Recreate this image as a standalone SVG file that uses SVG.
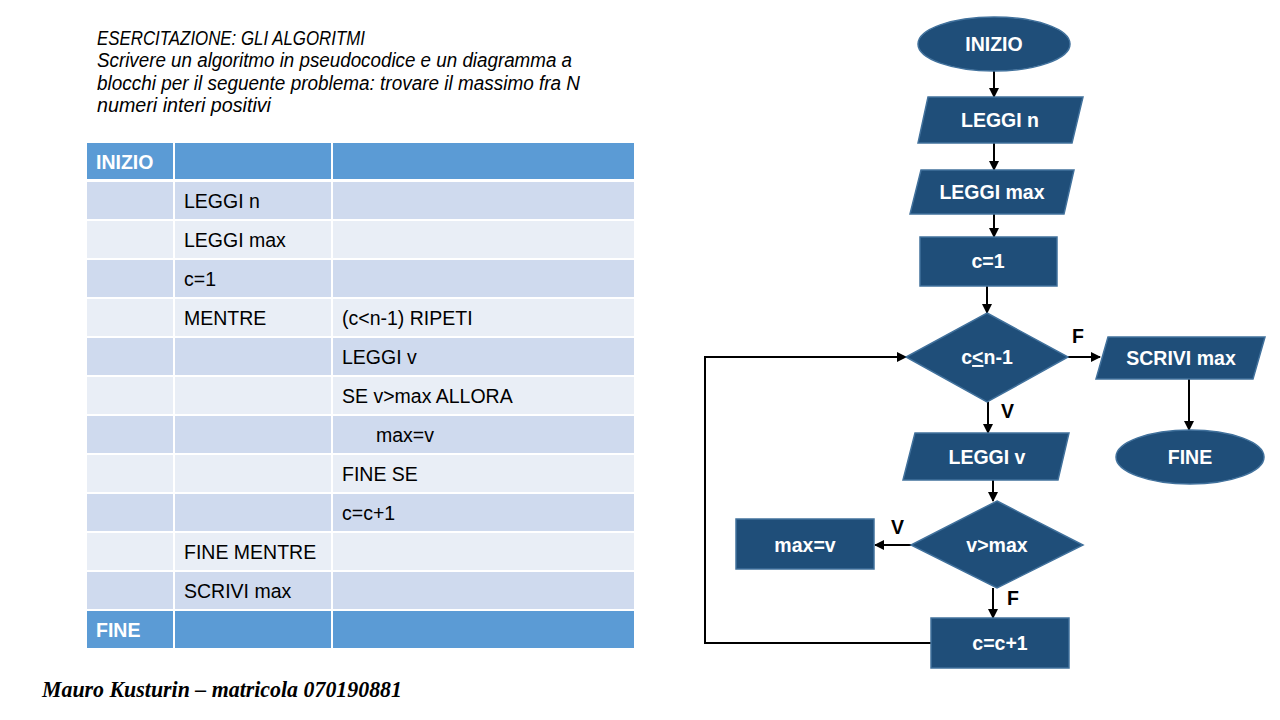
<svg xmlns="http://www.w3.org/2000/svg" width="1280" height="720" viewBox="0 0 1280 720">
<style>
.title{font-family:"Liberation Sans",Arial,sans-serif;font-style:italic;font-size:19.5px;fill:#000}
.cell{font-family:"Liberation Sans",Arial,sans-serif;font-size:19.5px;fill:#000}
.hcell{font-family:"Liberation Sans",Arial,sans-serif;font-size:19.5px;font-weight:bold;fill:#fff}
.hd{fill:#5B9BD5}
.dk{fill:#CFDAEE}
.lt{fill:#E9EEF6}
.node{fill:#1F4E79;stroke:#41719C;stroke-width:1.5}
.nt{font-family:"Liberation Sans",Arial,sans-serif;font-size:19.5px;font-weight:bold;fill:#fff;text-anchor:middle}
.lab{font-family:"Liberation Sans",Arial,sans-serif;font-size:19.5px;font-weight:bold;fill:#000}
.con{fill:none;stroke:#000;stroke-width:2}
.sig{font-family:"Liberation Serif",serif;font-style:italic;font-weight:bold;font-size:23px;fill:#000}
</style>
<defs>
<marker id="arr" markerUnits="userSpaceOnUse" markerWidth="10" markerHeight="10" refX="9" refY="5" orient="auto">
<path d="M0,0 L10,5 L0,10 Z" fill="#000"/>
</marker>
</defs>
<rect width="1280" height="720" fill="#fff"/>
<g id="title">
<text class="title" x="97" y="45" textLength="268" lengthAdjust="spacingAndGlyphs">ESERCITAZIONE: GLI ALGORITMI</text>
<text class="title" x="97" y="67" textLength="475" lengthAdjust="spacingAndGlyphs">Scrivere un algoritmo in pseudocodice e un diagramma a</text>
<text class="title" x="97" y="90" textLength="483" lengthAdjust="spacingAndGlyphs">blocchi per il seguente problema: trovare il massimo fra N</text>
<text class="title" x="97" y="112" textLength="174" lengthAdjust="spacingAndGlyphs">numeri interi positivi</text>
</g>
<g id="table">
<rect class="hd" x="87" y="143" width="86" height="36"/><rect class="hd" x="175" y="143" width="156" height="36"/><rect class="hd" x="333" y="143" width="301" height="36"/>
<rect class="dk" x="87" y="182" width="86" height="37"/><rect class="dk" x="175" y="182" width="156" height="37"/><rect class="dk" x="333" y="182" width="301" height="37"/>
<rect class="lt" x="87" y="221" width="86" height="37"/><rect class="lt" x="175" y="221" width="156" height="37"/><rect class="lt" x="333" y="221" width="301" height="37"/>
<rect class="dk" x="87" y="260" width="86" height="37"/><rect class="dk" x="175" y="260" width="156" height="37"/><rect class="dk" x="333" y="260" width="301" height="37"/>
<rect class="lt" x="87" y="299" width="86" height="37"/><rect class="lt" x="175" y="299" width="156" height="37"/><rect class="lt" x="333" y="299" width="301" height="37"/>
<rect class="dk" x="87" y="338" width="86" height="37"/><rect class="dk" x="175" y="338" width="156" height="37"/><rect class="dk" x="333" y="338" width="301" height="37"/>
<rect class="lt" x="87" y="377" width="86" height="37"/><rect class="lt" x="175" y="377" width="156" height="37"/><rect class="lt" x="333" y="377" width="301" height="37"/>
<rect class="dk" x="87" y="416" width="86" height="37"/><rect class="dk" x="175" y="416" width="156" height="37"/><rect class="dk" x="333" y="416" width="301" height="37"/>
<rect class="lt" x="87" y="455" width="86" height="37"/><rect class="lt" x="175" y="455" width="156" height="37"/><rect class="lt" x="333" y="455" width="301" height="37"/>
<rect class="dk" x="87" y="494" width="86" height="37"/><rect class="dk" x="175" y="494" width="156" height="37"/><rect class="dk" x="333" y="494" width="301" height="37"/>
<rect class="lt" x="87" y="533" width="86" height="37"/><rect class="lt" x="175" y="533" width="156" height="37"/><rect class="lt" x="333" y="533" width="301" height="37"/>
<rect class="dk" x="87" y="572" width="86" height="37"/><rect class="dk" x="175" y="572" width="156" height="37"/><rect class="dk" x="333" y="572" width="301" height="37"/>
<rect class="hd" x="87" y="611" width="86" height="37"/><rect class="hd" x="175" y="611" width="156" height="37"/><rect class="hd" x="333" y="611" width="301" height="37"/>
<text class="hcell" x="96" y="169">INIZIO</text>
<text class="cell" x="184" y="208">LEGGI n</text>
<text class="cell" x="184" y="247">LEGGI max</text>
<text class="cell" x="184" y="286">c=1</text>
<text class="cell" x="184" y="325">MENTRE</text>
<text class="cell" x="342" y="325">(c&lt;n-1) RIPETI</text>
<text class="cell" x="342" y="364">LEGGI v</text>
<text class="cell" x="342" y="403">SE v&gt;max ALLORA</text>
<text class="cell" x="376" y="442">max=v</text>
<text class="cell" x="342" y="481">FINE SE</text>
<text class="cell" x="342" y="520">c=c+1</text>
<text class="cell" x="184" y="559">FINE MENTRE</text>
<text class="cell" x="184" y="598">SCRIVI max</text>
<text class="hcell" x="96" y="637">FINE</text>
</g>
<g id="connectors">
<line class="con" x1="994" y1="71" x2="994" y2="97" marker-end="url(#arr)"/>
<line class="con" x1="994" y1="143" x2="994" y2="170" marker-end="url(#arr)"/>
<line class="con" x1="994" y1="214" x2="994" y2="237" marker-end="url(#arr)"/>
<line class="con" x1="987" y1="286" x2="987" y2="313" marker-end="url(#arr)"/>
<line class="con" x1="1068" y1="357" x2="1100" y2="357" marker-end="url(#arr)"/>
<line class="con" x1="1189" y1="379" x2="1189" y2="430" marker-end="url(#arr)"/>
<line class="con" x1="988" y1="402" x2="988" y2="433" marker-end="url(#arr)"/>
<line class="con" x1="993" y1="480" x2="993" y2="501" marker-end="url(#arr)"/>
<line class="con" x1="911" y1="545" x2="875" y2="545" marker-end="url(#arr)"/>
<line class="con" x1="993" y1="588" x2="993" y2="618" marker-end="url(#arr)"/>
<polyline class="con" points="931,643 705,643 705,357 906,357" marker-end="url(#arr)"/>
<text class="lab" x="1072" y="343">F</text>
<text class="lab" x="1001" y="418">V</text>
<text class="lab" x="891" y="534">V</text>
<text class="lab" x="1007" y="605">F</text>
</g>
<g id="n-inizio"><ellipse class="node" cx="994" cy="44" rx="76" ry="27"/><text class="nt" x="994" y="51">INIZIO</text></g>
<g id="n-leggin"><polygon class="node" points="928,97 1083,97 1072,143 918,143"/><text class="nt" x="1000" y="127">LEGGI n</text></g>
<g id="n-leggimax"><polygon class="node" points="921,170 1074,170 1064,214 910,214"/><text class="nt" x="992" y="199">LEGGI max</text></g>
<g id="n-c1"><rect class="node" x="920" y="237" width="137" height="49"/><text class="nt" x="988" y="268">c=1</text></g>
<g id="n-cond1"><polygon class="node" points="987,313 1068,357 987,402 906,357"/><text class="nt" x="987" y="364">c<tspan text-decoration="underline">&lt;</tspan>n-1</text></g>
<g id="n-scrivi"><polygon class="node" points="1108,337 1265,337 1253,379 1096,379"/><text class="nt" x="1181" y="365">SCRIVI max</text></g>
<g id="n-fine"><ellipse class="node" cx="1190" cy="457" rx="74" ry="27"/><text class="nt" x="1190" y="464">FINE</text></g>
<g id="n-leggiv"><polygon class="node" points="915,433 1069,433 1058,480 903,480"/><text class="nt" x="987" y="464">LEGGI v</text></g>
<g id="n-cond2"><polygon class="node" points="997,501 1083,545 997,588 911,545"/><text class="nt" x="997" y="552">v&gt;max</text></g>
<g id="n-maxv"><rect class="node" x="736" y="519" width="138" height="50"/><text class="nt" x="805" y="552">max=v</text></g>
<g id="n-cc1"><rect class="node" x="931" y="618" width="138" height="50"/><text class="nt" x="1000" y="650">c=c+1</text></g>
<g id="signature"><text class="sig" x="42" y="697" textLength="360" lengthAdjust="spacingAndGlyphs">Mauro Kusturin – matricola 070190881</text></g>
</svg>
